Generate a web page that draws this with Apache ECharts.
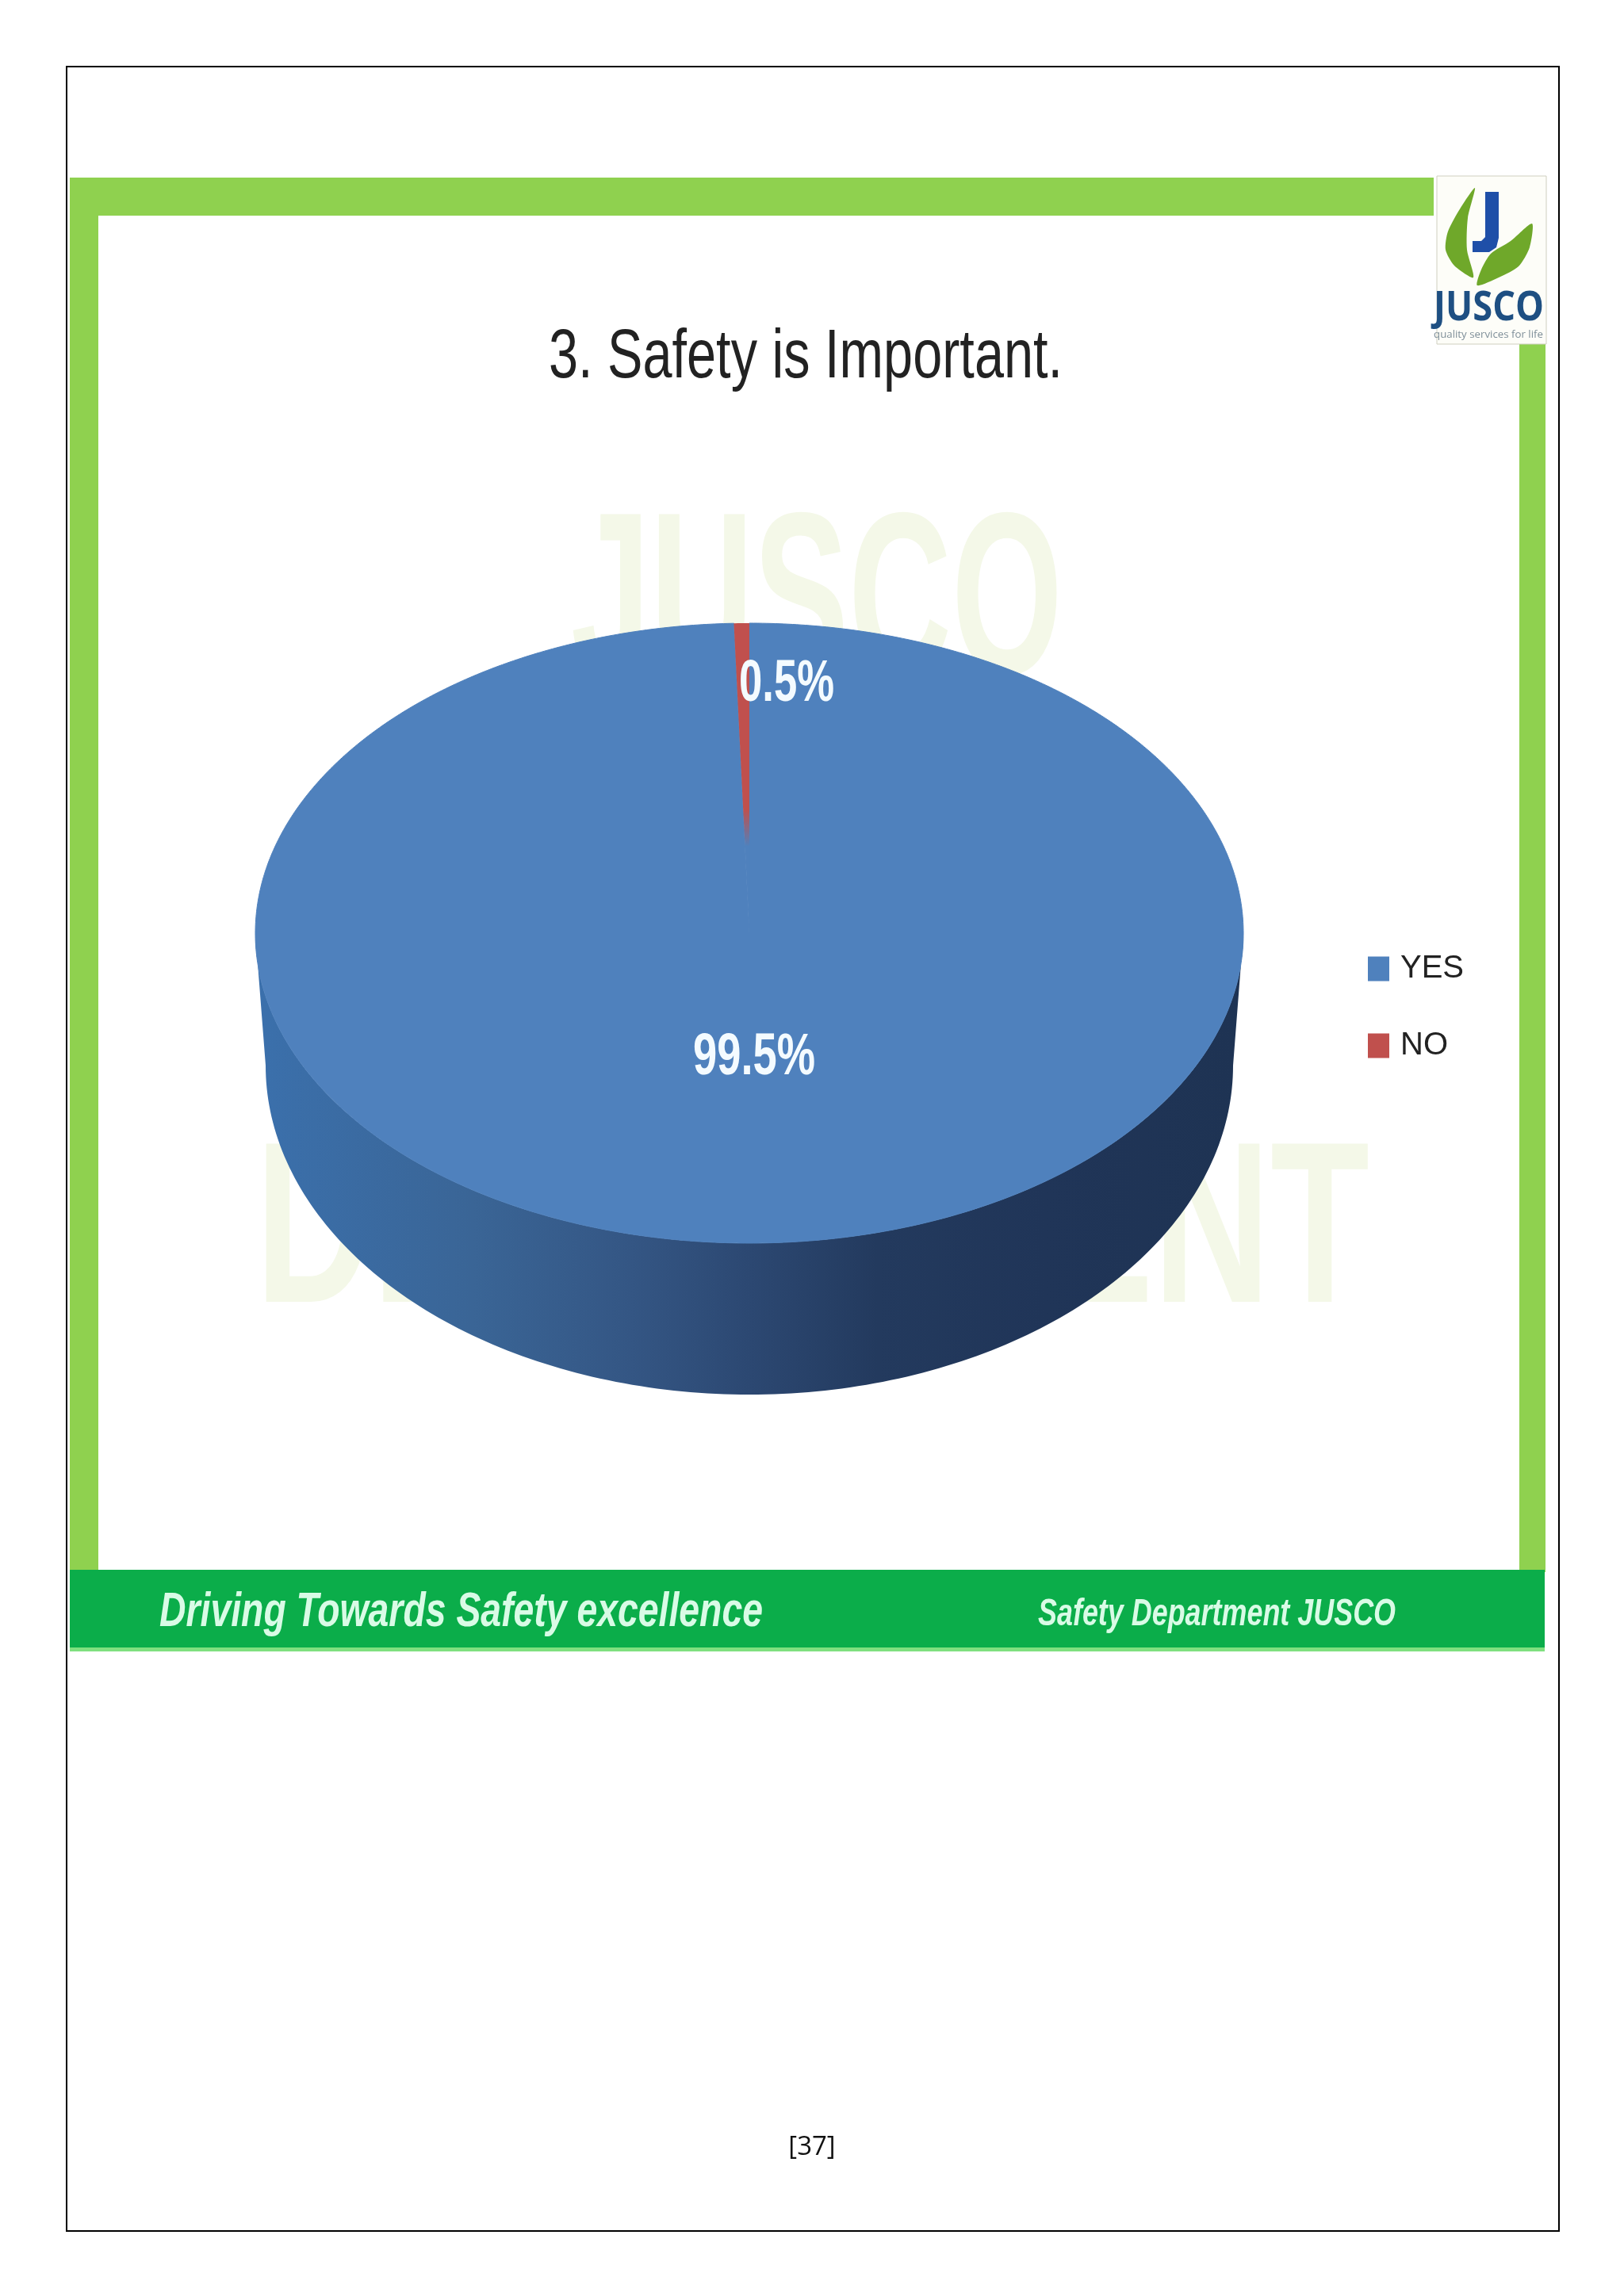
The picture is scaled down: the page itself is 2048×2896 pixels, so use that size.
<!DOCTYPE html>
<html><head><meta charset="utf-8">
<style>html,body{margin:0;padding:0;background:#fff}#c{width:2048px;height:2896px}</style>
<script src="https://cdn.jsdelivr.net/npm/echarts@6/dist/echarts.min.js"></script>
</head><body><div id="c"></div>
<script>
const categories = ['YES', 'NO'];
const values = [99.5, 0.5];
const titleText = '3. Safety is Important.';
const footerLeft = 'Driving Towards Safety excellence';
const footerRight = 'Safety Department JUSCO';
const pageNumber = '[37]';

const SANS = '"Liberation Sans",sans-serif';
const top3d = {cx: 945, cy: 1177, rx: 623, ry: 391};
const base3d = {cx: 945, cy: 1344, rx: 610, ry: 415};
const labelPos = [[951, 1334], [992, 863]];
const blue = '#4f81bd', red = '#c0504d';

const ctx = document.createElement('canvas').getContext('2d');
function fitted(text, x, y, w, size, weight, fill, family, extra) {
  const fam = family || SANS;
  ctx.font = `${weight} ${size}px ${fam}`;
  const sx = w / ctx.measureText(text).width;
  return Object.assign({type: 'text', x, y, scaleX: sx, silent: true,
    style: {text, fill, font: `${weight} ${size}px ${fam}`, textAlign: 'left', textVerticalAlign: 'middle'}}, extra || {});
}
const rect = (x, y, w, h, fill, z) => ({type: 'rect', z: z || 1, silent: true, shape: {x, y, width: w, height: h}, style: {fill}});
const pt = (e, deg) => { const a = deg * Math.PI / 180; return [e.cx + e.rx * Math.sin(a), e.cy - e.ry * Math.cos(a)]; };

function renderSlice(params, api) {
  const i = params.seriesIndex;
  const start = api.value(0) * 3.6, end = start + api.value(1) * 3.6;
  const children = [];
  const a = Math.max(start, 90), b = Math.min(end, 270);
  if (b > a) {
    const pts = [];
    for (let t = a; t <= b; t += 1) pts.push(pt(top3d, t));
    for (let t = b; t >= a; t -= 1) pts.push(pt(base3d, t));
    children.push({type: 'polygon', shape: {points: pts}, style: {fill: {type: 'linear', x: 0, y: 0, x2: 1, y2: 0, colorStops: [
      {offset: 0, color: '#3b70ac'}, {offset: 0.22, color: '#3a6596'}, {offset: 0.38, color: '#345684'},
      {offset: 0.5, color: '#2c4872'}, {offset: 0.63, color: '#233a5e'}, {offset: 0.8, color: '#203558'}, {offset: 1, color: '#1e3353'}]}}});
  }
  const pts = [[top3d.cx, top3d.cy]];
  for (let t = start; t < end; t += 0.5) pts.push(pt(top3d, t));
  pts.push(pt(top3d, end));
  const fill = i === 0 ? blue : {type: 'linear', x: 0, y: 0, x2: 0, y2: 1, colorStops: [
    {offset: 0, color: red}, {offset: 0.6, color: red}, {offset: 0.72, color: blue}, {offset: 1, color: blue}]};
  children.push({type: 'polygon', shape: {points: pts}, style: {fill, stroke: i === 0 ? blue : null, lineWidth: i === 0 ? 1 : 0}});
  const txt = api.value(1) + '%';
  const font = `bold 75px ${SANS}`;
  ctx.font = font;
  children.push({type: 'text', x: labelPos[i][0], y: labelPos[i][1], scaleX: (i === 0 ? 154 : 120) / ctx.measureText(txt).width,
    style: {text: txt, font, fill: '#f4fbff', textAlign: 'center', textVerticalAlign: 'middle'}});
  return {type: 'group', children};
}

let cum = 0;
const series = categories.map((name, i) => {
  const s = {type: 'custom', name, coordinateSystem: 'none', animation: false, silent: true,
    itemStyle: {color: i === 0 ? blue : red}, renderItem: renderSlice,
    data: [{name, value: [cum, values[i]]}]};
  cum += values[i];
  return s;
});

const graphics = [
  {type: 'rect', z: 1, silent: true, shape: {x: 84, y: 84, width: 1882, height: 2730}, style: {fill: '#fff', stroke: '#000', lineWidth: 2}},
  fitted('JUSCO', 720, 769, 620, 292, 'bold', '#f4f8e8', null, {z: 1}),
  fitted('DEPARTMENT', 322, 1562, 1405, 290, 'bold', '#f4f8e8', null, {z: 1}),
  rect(88, 224, 1720, 48, '#8fd14f', 2),
  rect(88, 224, 36, 1760, '#8fd14f', 2),
  rect(1916, 433, 33, 1550, '#8fd14f', 2),
  rect(88, 1980, 1860, 103, '#0bad4a', 3),
  rect(88, 2078, 1860, 5, '#7fe07f', 3),
  fitted(titleText, 692, 452, 648, 88, 'normal', '#222', null, {z: 3}),
  fitted(footerLeft, 201, 2034, 761, 62, 'bold italic', '#d9fbe6', null, {z: 4}),
  fitted(footerRight, 1309, 2037, 451, 48, 'bold italic', '#d9fbe6', null, {z: 4}),
  {type: 'text', z: 3, silent: true, x: 1024, y: 2709, style: {text: pageNumber, font: '33px "Open Sans",sans-serif', fill: '#111', textAlign: 'center', textVerticalAlign: 'middle'}},
  // logo
  {type: 'rect', z: 4, silent: true, shape: {x: 1812, y: 222, width: 138, height: 212}, style: {fill: '#fdfdf8', stroke: '#cfcfc0', lineWidth: 1}},
  {type: 'polygon', z: 5, silent: true, shape: {smooth: 0.25, points: [[1860, 237], [1842, 262], [1826, 292], [1823, 315], [1834, 335], [1858, 350], [1850, 315], [1851, 275]]}, style: {fill: '#6fa82a'}},
  {type: 'polygon', z: 5, silent: true, shape: {smooth: 0.25, points: [[1932, 282], [1905, 304], [1880, 320], [1868, 340], [1863, 360], [1890, 350], [1915, 336], [1929, 312]]}, style: {fill: '#6fa82a'}},
  {type: 'polygon', z: 6, silent: true, shape: {points: [[1873, 242], [1890, 242], [1890, 300], [1887, 312], [1878, 318], [1857, 318], [1857, 304], [1868, 304], [1873, 299]]}, style: {fill: '#1f4fa8'}},
  fitted('JUSCO', 1808, 389, 139, 52, 'bold', '#1e4f82', '"Open Sans",sans-serif', {z: 6}),
  fitted('quality services for life', 1808, 423, 138, 12, 'normal', '#7f8f99', '"Open Sans",sans-serif', {z: 6}),
];

const chart = echarts.init(document.getElementById('c'), null, {renderer: 'canvas', width: 2048, height: 2896});
chart.setOption({
  animation: false,
  backgroundColor: '#fff',
  legend: {
    show: true, orient: 'vertical', left: 1725, top: 1199, padding: 0, icon: 'rect', itemWidth: 27, itemHeight: 31, itemGap: 51,
    data: categories, selectedMode: false,
    textStyle: {fontFamily: SANS, fontSize: 40, lineHeight: 46, color: '#222', padding: [0, 0, 0, 9]}
  },
  graphic: {elements: graphics},
  series
});
</script></body></html>
